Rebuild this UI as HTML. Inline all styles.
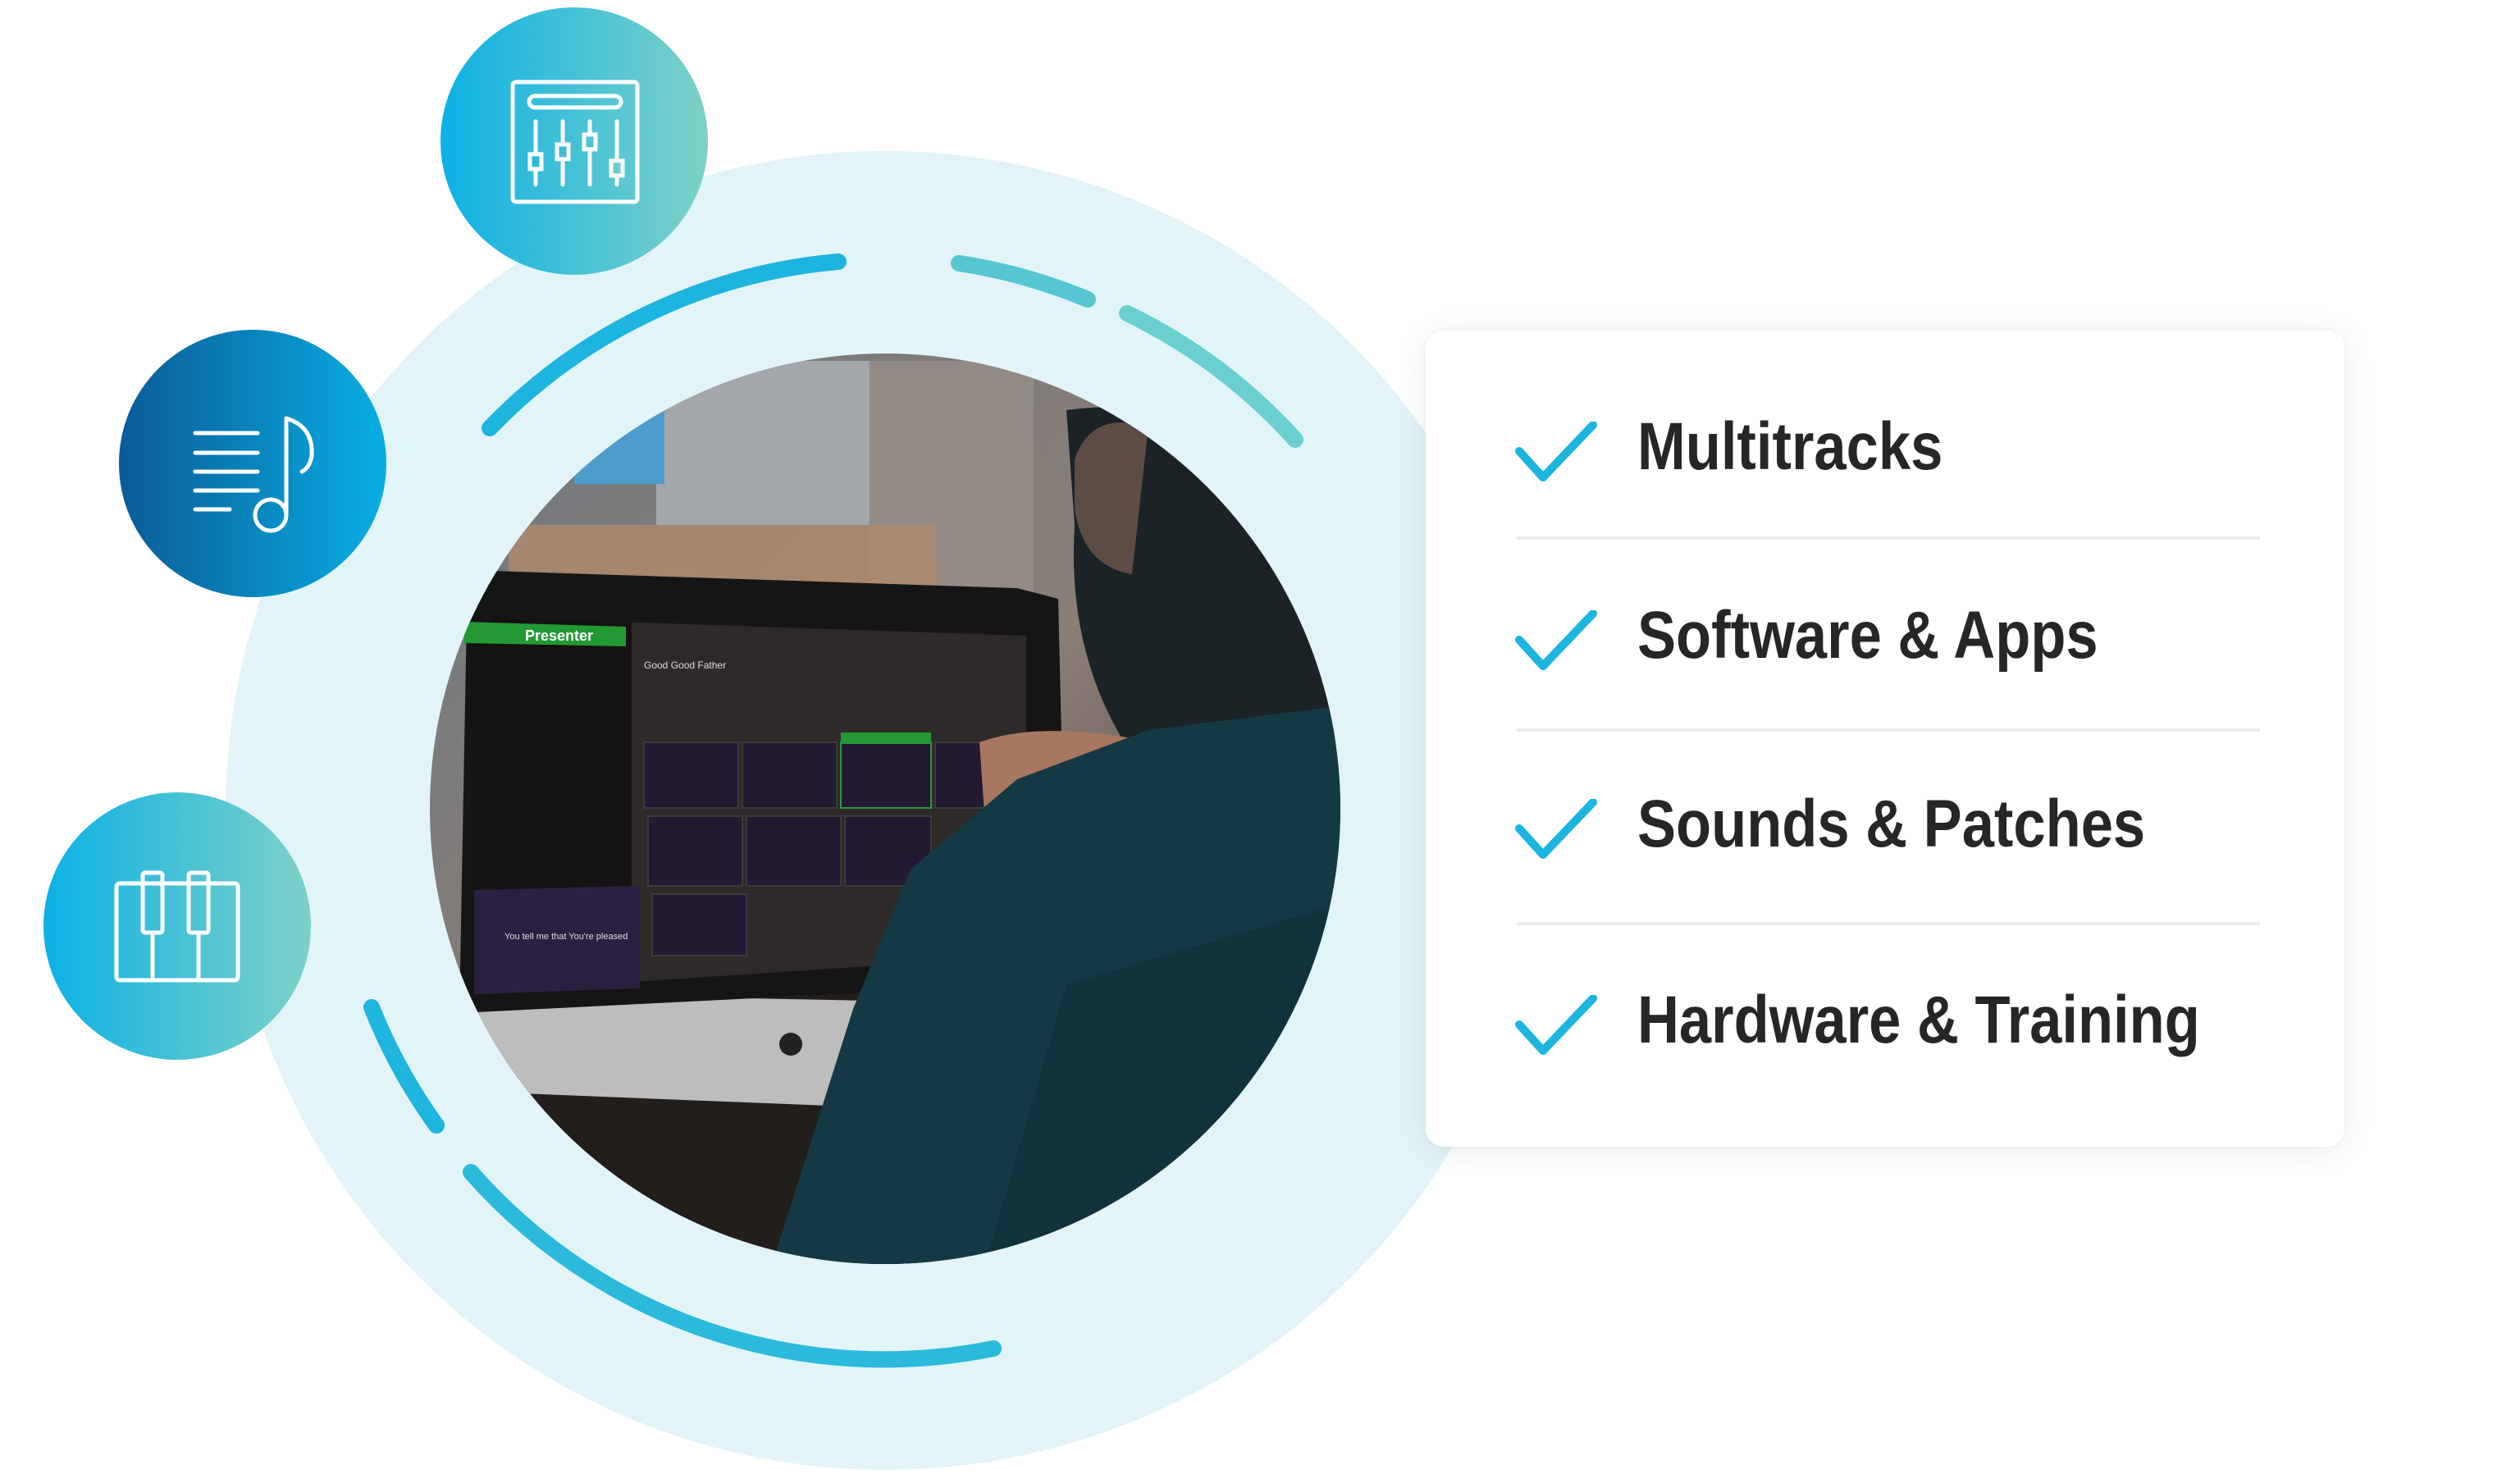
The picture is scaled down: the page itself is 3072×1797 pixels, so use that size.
<!DOCTYPE html>
<html><head><meta charset="utf-8"><style>
html,body{margin:0;padding:0;background:#fff;}
body{width:3072px;height:1797px;position:relative;overflow:hidden;font-family:"Liberation Sans",sans-serif;}
.card{position:absolute;left:1738px;top:403px;width:1120px;height:995px;background:#fff;border-radius:22px;box-shadow:0 4px 40px rgba(0,0,0,0.08),0 0 6px rgba(0,0,0,0.04);}
.item{position:absolute;left:258px;font-weight:bold;color:#262626;font-size:82px;line-height:1;transform-origin:0 100%;transform:scaleX(0.86);white-space:nowrap;}
.div{position:absolute;left:111px;width:906px;height:4px;background:#ececec;}
.chk{position:absolute;left:108px;}
</style></head><body>
<svg width="3072" height="1797" style="position:absolute;left:0;top:0">
<defs>
<linearGradient id="g1" x1="0" x2="1" y1="0" y2="0"><stop offset="0" stop-color="#0cb1e5"/><stop offset="1" stop-color="#7ed1c7"/></linearGradient>
<linearGradient id="g2" x1="0" x2="1" y1="0" y2="0"><stop offset="0" stop-color="#0a5b96"/><stop offset="1" stop-color="#08aee3"/></linearGradient>
<clipPath id="pc"><circle cx="1079" cy="986" r="555"/></clipPath>
<linearGradient id="wall" x1="0" x2="1" y1="0" y2="1"><stop offset="0" stop-color="#6f7880"/><stop offset="0.5" stop-color="#8a7e76"/><stop offset="1" stop-color="#3a302c"/></linearGradient>
</defs>
<circle cx="1079" cy="988" r="804" fill="#e2f4f8"/>
<g fill="none" stroke-width="20" stroke-linecap="round">
<path d="M597 522 A670 670 0 0 1 1022 319" stroke="#1db4df"/>
<path d="M1169 321 A670 670 0 0 1 1326 365" stroke="#55c7d3"/>
<path d="M1374 382 A670 670 0 0 1 1579 536" stroke="#6acfcf"/>
<path d="M453 1228 A670 670 0 0 0 532 1372" stroke="#1eb5de"/>
<path d="M574 1429 A670 670 0 0 0 1211 1644" stroke="#2bbadc"/>
</g>
<g clip-path="url(#pc)">
<rect x="520" y="425" width="1120" height="1120" fill="url(#wall)"/>
<rect x="800" y="440" width="260" height="200" fill="#aeb3b8" opacity="0.8"/>
<rect x="700" y="480" width="110" height="110" fill="#4d9ccb"/>
<rect x="1060" y="440" width="200" height="300" fill="#9a918a" opacity="0.7"/>
<rect x="620" y="640" width="520" height="80" fill="#b08a6a" opacity="0.8"/>
<rect x="520" y="1200" width="1120" height="345" fill="#221e1c"/>
<polygon points="560,1210 1060,1220 1060,1350 560,1330" fill="#bdbdbd"/>
<polygon points="570,695 1240,717 1290,730 1300,1150 1060,1210 560,1235" fill="#151515"/>
<polygon points="572,752 1251,775 1251,1165 578,1210" fill="#2e2a29"/>
<polygon points="572,752 770,758 770,1210 578,1210" fill="#141212"/>
<polygon points="566,758 763,764 763,788 566,784" fill="#229933"/>
<text x="640" y="781" fill="#fff" font-size="18" font-weight="bold">Presenter</text>
<polygon points="578,1085 780,1080 780,1205 578,1212" fill="#2c2040"/>
<text x="615" y="1145" fill="#ddd" font-size="11">You tell me that You're pleased</text>
<g fill="#221a33" stroke="#3a3a3a" stroke-width="2">
<rect x="785" y="905" width="115" height="80"/><rect x="905" y="905" width="115" height="80"/>
<rect x="1025" y="905" width="110" height="80" stroke="#2a9a3a"/><rect x="1140" y="905" width="100" height="80"/>
<rect x="790" y="995" width="115" height="85"/><rect x="910" y="995" width="115" height="85"/><rect x="1030" y="995" width="105" height="85"/>
<rect x="795" y="1090" width="115" height="75"/>
</g>
<rect x="1025" y="893" width="110" height="14" fill="#229933"/>
<text x="785" y="815" fill="#ddd" font-size="12">Good Good Father</text>
<circle cx="964" cy="1273" r="14" fill="#222"/>
<path d="M1300 500 Q1450 480 1640 560 L1640 900 L1380 920 Q1300 800 1310 640 Z" fill="#1b2327"/>
<path d="M1310 560 Q1330 500 1400 520 L1380 700 Q1320 690 1310 620 Z" fill="#5e4c44"/>
<path d="M1194 905 Q1260 880 1380 900 L1380 1000 Q1300 1010 1200 990 Z" fill="#a87760"/>
<polygon points="940,1545 1040,1230 1110,1060 1240,950 1400,890 1640,860 1640,1545" fill="#153944"/>
<polygon points="1200,1545 1300,1200 1640,1100 1640,1545" fill="#0f2e38" opacity="0.6"/>
</g>
<circle cx="700" cy="172" r="163" fill="url(#g1)"/>
<circle cx="308" cy="565" r="163" fill="url(#g2)"/>
<circle cx="216" cy="1129" r="163" fill="url(#g1)"/>
<g fill="none" stroke="#fff" stroke-width="5" stroke-linecap="round">
<rect x="625" y="100" width="152" height="146" rx="4"/>
<rect x="645" y="117" width="112" height="14" rx="7"/>
<line x1="653" y1="148" x2="653" y2="225"/><line x1="686" y1="148" x2="686" y2="225"/>
<line x1="719" y1="148" x2="719" y2="225"/><line x1="752" y1="148" x2="752" y2="225"/>
<rect x="646" y="188" width="14" height="18" fill="#2bb8dc"/><rect x="679" y="176" width="14" height="18" fill="#3cbcd8"/>
<rect x="712" y="164" width="14" height="18" fill="#50c2d4"/><rect x="745" y="196" width="14" height="18" fill="#6acbcc"/>
<line x1="238" y1="528" x2="314" y2="528"/><line x1="238" y1="552" x2="314" y2="552"/>
<line x1="238" y1="575" x2="314" y2="575"/><line x1="238" y1="598" x2="314" y2="598"/>
<line x1="238" y1="621" x2="280" y2="621"/>
<line x1="349" y1="510" x2="349" y2="628"/><circle cx="330" cy="628" r="19"/>
<path d="M349 510 Q382 520 380 555 Q378 570 368 575"/>
<rect x="142" y="1077" width="148" height="118" rx="4"/>
<rect x="174" y="1064" width="24" height="73" rx="3"/><rect x="230" y="1064" width="24" height="73" rx="3"/>
<line x1="186" y1="1137" x2="186" y2="1195"/><line x1="242" y1="1137" x2="242" y2="1195"/>
</g>
</svg>
<div class="card">
<svg class="chk" style="top:111px" width="110" height="80"><polyline points="6,36 35,68 96,4" fill="none" stroke="#1bb5e0" stroke-width="10" stroke-linecap="round" stroke-linejoin="round"/></svg>
<div class="item" style="top:101px">Multitracks</div>
<div class="div" style="top:251px"></div>
<svg class="chk" style="top:341px" width="110" height="80"><polyline points="6,36 35,68 96,4" fill="none" stroke="#1bb5e0" stroke-width="10" stroke-linecap="round" stroke-linejoin="round"/></svg>
<div class="item" style="top:331px">Software &amp; Apps</div>
<div class="div" style="top:485px"></div>
<svg class="chk" style="top:571px" width="110" height="80"><polyline points="6,36 35,68 96,4" fill="none" stroke="#1bb5e0" stroke-width="10" stroke-linecap="round" stroke-linejoin="round"/></svg>
<div class="item" style="top:561px">Sounds &amp; Patches</div>
<div class="div" style="top:721px"></div>
<svg class="chk" style="top:810px" width="110" height="80"><polyline points="6,36 35,68 96,4" fill="none" stroke="#1bb5e0" stroke-width="10" stroke-linecap="round" stroke-linejoin="round"/></svg>
<div class="item" style="top:800px">Hardware &amp; Training</div>
</div>
</body></html>
